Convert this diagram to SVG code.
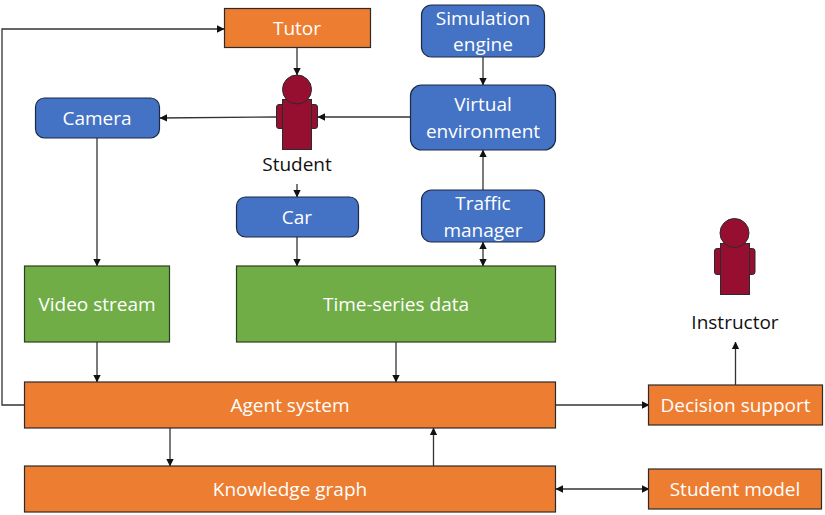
<svg xmlns="http://www.w3.org/2000/svg" width="825" height="515" viewBox="0 0 825 515">
<style>
.o{fill:#ed7d31;stroke:#2b2b2b;stroke-width:1.2}
.b{fill:#4472c4;stroke:#1c2a44;stroke-width:1.2}
.g{fill:#70ad47;stroke:#2b3f1c;stroke-width:1.2}
.p{fill:#960f30;stroke:#2b2b2b;stroke-width:1}
text{font-family:"Open Sans","Noto Sans","DejaVu Sans",sans-serif;font-size:19px;text-anchor:middle;fill:#fff}
text.k{fill:#111}
.c{fill:none;stroke:#333;stroke-width:1.3}
</style>
<defs>
<marker id="a" viewBox="0 0 10 10" refX="9.500" refY="5" markerWidth="7.500" markerHeight="7.500" markerUnits="userSpaceOnUse" orient="auto-start-reverse"><path d="M0 0L10 5L0 10z" fill="#111"/></marker>
</defs>
<g id="connectors">
<path class="c" marker-end="url(#a)" d="M24 405H2V29H224"/>
<path class="c" marker-end="url(#a)" d="M297 48V75"/>
<path class="c" marker-end="url(#a)" d="M483 57V85"/>
<path class="c" marker-end="url(#a)" d="M411 117H318"/>
<path class="c" marker-end="url(#a)" d="M277 117L160 118"/>
<path class="c" marker-end="url(#a)" d="M483 190V150"/>
<path class="c" marker-end="url(#a)" d="M97 138V266"/>
<path class="c" marker-end="url(#a)" d="M297 184V197"/>
<path class="c" marker-end="url(#a)" d="M297 237V266"/>
<path class="c" marker-start="url(#a)" marker-end="url(#a)" d="M483 242V266"/>
<path class="c" marker-end="url(#a)" d="M97 342V382"/>
<path class="c" marker-end="url(#a)" d="M396 342V382"/>
<path class="c" marker-end="url(#a)" d="M170 428V466"/>
<path class="c" marker-end="url(#a)" d="M433.500 466V428"/>
<path class="c" marker-end="url(#a)" d="M556 405H649"/>
<path class="c" marker-start="url(#a)" marker-end="url(#a)" d="M556 489H649"/>
<path class="c" marker-end="url(#a)" d="M735.500 385V342"/>
</g>
<g id="tutor"><rect class="o" x="224.500" y="8.500" width="146" height="39"/><text x="297" y="35">Tutor</text></g>
<g id="simulation-engine"><rect class="b" x="421.500" y="5" width="123" height="52" rx="10"/><text x="483" y="25">Simulation</text><text x="483" y="51">engine</text></g>
<g id="virtual-environment"><rect class="b" x="410.500" y="85" width="145" height="65" rx="11"/><text x="483" y="111">Virtual</text><text x="483" y="138">environment</text></g>
<g id="camera"><rect class="b" x="35.500" y="98" width="124" height="40" rx="9"/><text x="97" y="125">Camera</text></g>
<g id="student">
<rect class="p" x="276.500" y="104.500" width="8" height="24" rx="2.500"/><rect class="p" x="309.500" y="104.500" width="8" height="24" rx="2.500"/>
<rect class="p" x="282.500" y="99.500" width="29" height="50"/><circle class="p" cx="297" cy="89.500" r="14.500"/>
<text class="k" x="297" y="171">Student</text></g>
<g id="car"><rect class="b" x="236.500" y="197" width="122" height="40" rx="9"/><text x="297" y="224">Car</text></g>
<g id="traffic-manager"><rect class="b" x="421.500" y="190" width="123" height="52" rx="10"/><text x="483" y="210">Traffic</text><text x="483" y="237">manager</text></g>
<g id="video-stream"><rect class="g" x="24.500" y="266" width="145" height="76"/><text x="97" y="311">Video stream</text></g>
<g id="time-series-data"><rect class="g" x="236.500" y="266" width="319" height="76"/><text x="396" y="311">Time-series data</text></g>
<g id="instructor">
<rect class="p" x="714.500" y="248.500" width="8" height="26" rx="2.500"/><rect class="p" x="747" y="248.500" width="8" height="26" rx="2.500"/>
<rect class="p" x="720.500" y="243.500" width="29" height="51"/><circle class="p" cx="734.500" cy="233" r="14.500"/>
<text class="k" x="735" y="329">Instructor</text></g>
<g id="agent-system"><rect class="o" x="24.500" y="382" width="531" height="46"/><text x="290" y="412">Agent system</text></g>
<g id="decision-support"><rect class="o" x="648.500" y="385" width="174" height="40"/><text x="735.500" y="412">Decision support</text></g>
<g id="knowledge-graph"><rect class="o" x="24.500" y="466" width="531" height="46"/><text x="290" y="496">Knowledge graph</text></g>
<g id="student-model"><rect class="o" x="648.500" y="469" width="173" height="40"/><text x="735" y="496">Student model</text></g>
</svg>
